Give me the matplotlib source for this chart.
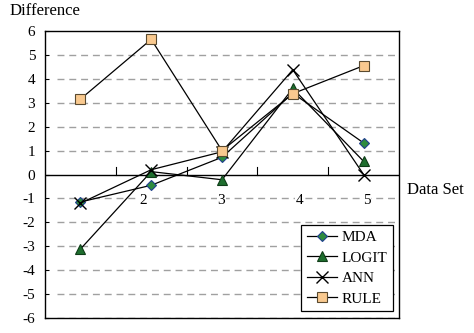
import matplotlib.pyplot as plt

plt.rcParams['font.family'] = ['Liberation Serif', 'DejaVu Serif']

data_sets = [1, 2, 3, 4, 5]
mda = [-1.15, -0.45, 0.72, 3.4, 1.32]
logit = [-3.12, 0.12, -0.22, 3.6, 0.55]
ann = [-1.2, 0.2, 0.95, 4.38, 0.0]
rule = [3.15, 5.65, 1.0, 3.38, 4.55]
y_ticks = list(range(-6, 7))
# label offsets as printed in the source figure
x_label_pos = [1.89, 2.99, 4.1, 5.04]

fig = plt.figure(figsize=(4.74, 3.33), dpi=100)
ax = fig.add_axes([45 / 474, 1 - 318 / 333, 354 / 474, 287 / 333])

ax.set_xlim(0.5, 5.5)
ax.set_ylim(-6, 6)

# dashed grid, skipping zero and the top
for y in y_ticks:
    if y in (0, 6):
        continue
    ax.axhline(y, xmin=0.035, color='#a0a0a0', lw=1.0, ls=(0, (5, 3.5)), zorder=0)
ax.axhline(0, color='black', lw=1.0, zorder=1)

# category boundary ticks on the zero line
for b in [1.5, 2.5, 3.5, 4.5]:
    ax.plot([b, b], [0, 0.32], color='black', lw=0.8, zorder=1)

ax.plot(data_sets, mda, color='black', lw=0.9, marker='D', ms=5,
        mfc='#2e8b3e', mec='#1f3f8f', mew=0.8, label='MDA', zorder=3)
ax.plot(data_sets, logit, color='black', lw=0.9, marker='^', ms=7,
        mfc='#1e6e2e', mec='#0f3d18', mew=0.8, label='LOGIT', zorder=3)
ax.plot(data_sets, ann, color='black', lw=0.9, marker='x', ms=8,
        mec='black', mew=1.0, label='ANN', zorder=3)
ax.plot(data_sets, rule, color='black', lw=0.9, marker='s', ms=7,
        mfc='#f9c98f', mec='#5a4a30', mew=0.8, label='RULE', zorder=3)

ax.set_yticks(y_ticks)
ax.set_yticklabels([str(v) for v in y_ticks], fontsize=11)
ax.tick_params(axis='y', direction='in', length=3, width=0.8, pad=7)
ax.set_xticks([])

for x, lab in zip(x_label_pos, data_sets[1:]):
    ax.text(x, -1.1, str(lab), ha='center', va='center', fontsize=11,
            bbox=dict(facecolor='white', edgecolor='none', pad=0.5), zorder=1)

for s in ax.spines.values():
    s.set_linewidth(1.0)

fig.text(10 / 474, 1 - 11 / 333, 'Difference', fontsize=12, va='center', ha='left')
fig.text(407 / 474, 1 - 190 / 333, 'Data Set', fontsize=12, va='center', ha='left')

leg = ax.legend(loc='lower right', bbox_to_anchor=(0.983, 0.024), fontsize=11,
                frameon=True, fancybox=False, edgecolor='black', framealpha=1,
                handlelength=2.0, handletextpad=0.3, borderpad=0.35,
                labelspacing=0.45, borderaxespad=0)
leg.get_frame().set_linewidth(0.9)

fig.savefig('out.png', dpi=100)
